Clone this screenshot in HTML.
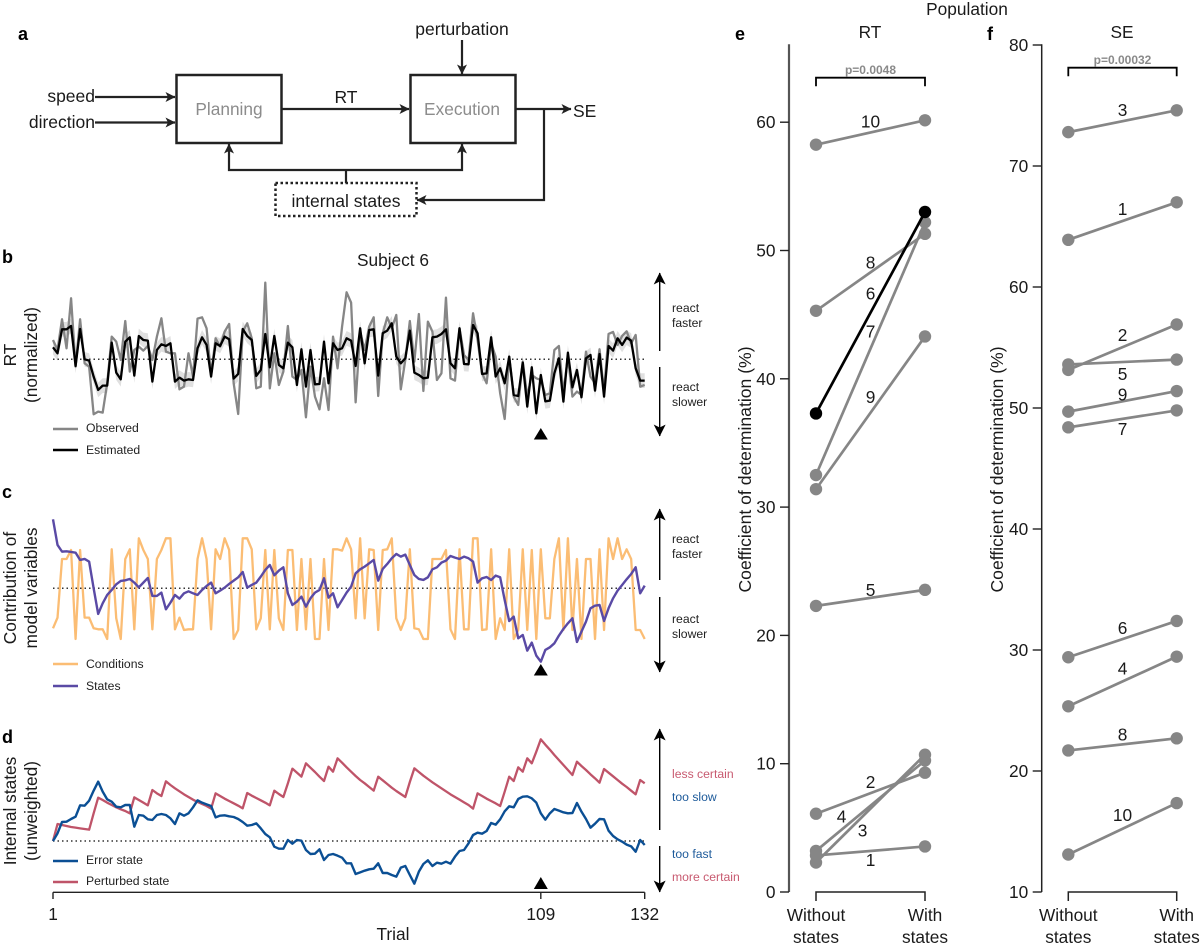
<!DOCTYPE html>
<html lang="en">
<head>
<meta charset="utf-8">
<title>Planning and execution model results</title>
<style>
html,body{margin:0;padding:0;background:#fff;}
svg{display:block;font-family:"Liberation Sans",Arial,sans-serif;}
.t{font-size:17.3px;fill:#1a1a1a;}
.s{font-size:12.2px;fill:#222;}
.letter{font-size:18px;font-weight:bold;fill:#000;}
.mid{text-anchor:middle;dominant-baseline:central;}
.vmid{dominant-baseline:central;}
</style>
</head>
<body>
<svg id="figure" xmlns="http://www.w3.org/2000/svg" width="1200" height="948" viewBox="0 0 1200 948">
<defs>
<marker id="ah" viewBox="0 0 10 10" refX="9.5" refY="5" markerWidth="10" markerHeight="10" markerUnits="userSpaceOnUse" orient="auto"><path d="M0 0L10 5L0 10L2.5 5Z" fill="#222"/></marker>
<marker id="bh" viewBox="0 0 12 12" refX="11.5" refY="6" markerWidth="12" markerHeight="12" markerUnits="userSpaceOnUse" orient="auto"><path d="M0 0L12 6L0 12L3 6Z" fill="#000"/></marker>
</defs>
<rect x="0" y="0" width="1200" height="948" fill="#fff"/>

<!-- Panel a -->
<g>
<text class="letter" x="18" y="40">a</text>
<rect x="176.5" y="75" width="105" height="68" fill="none" stroke="#222" stroke-width="2.5"/>
<rect x="410.5" y="75" width="105" height="68" fill="none" stroke="#222" stroke-width="2.5"/>
<rect x="275.5" y="183" width="141" height="33" fill="none" stroke="#222" stroke-width="2.5" stroke-dasharray="2.5 2.5"/>
<text class="t mid" x="229" y="109" style="fill:#8c8c8c">Planning</text>
<text class="t mid" x="462" y="109" style="fill:#8c8c8c">Execution</text>
<text class="t mid" x="346" y="201" style="font-size:17.5px">internal states</text>
<text class="t mid" x="462" y="29" style="font-size:17.5px">perturbation</text>
<text class="t vmid" x="95" y="96" text-anchor="end" style="font-size:17.5px">speed</text>
<text class="t vmid" x="95" y="122" text-anchor="end" style="font-size:17.5px">direction</text>
<text class="t mid" x="346" y="97" style="font-size:17.5px">RT</text>
<text class="t vmid" x="573" y="111" style="font-size:17.5px">SE</text>
<g fill="none" stroke="#222" stroke-width="2.2">
<line x1="95" y1="97" x2="175" y2="97" marker-end="url(#ah)"/>
<line x1="95" y1="122.5" x2="175" y2="122.5" marker-end="url(#ah)"/>
<line x1="282" y1="109" x2="409" y2="109" marker-end="url(#ah)"/>
<line x1="516" y1="109" x2="571" y2="109" marker-end="url(#ah)"/>
<line x1="462" y1="40" x2="462" y2="74" marker-end="url(#ah)"/>
<polyline points="544,109 544,200 417,200" marker-end="url(#ah)"/>
<polyline points="346,170 229,170 229,144" marker-end="url(#ah)"/>
<polyline points="346,170 462,170 462,144" marker-end="url(#ah)"/>
<line x1="346" y1="170" x2="346" y2="183"/>
</g>
</g>

<!-- Panel b -->
<g id="panel-b">
<text class="letter" x="2" y="263">b</text>
<text class="t mid" x="393" y="260">Subject 6</text>
<text class="t mid" transform="translate(10 355) rotate(-90)">RT</text>
<text class="t mid" transform="translate(31 355) rotate(-90)">(normalized)</text>
<polygon id="rt-band" fill="#e0e0e0"/>
<line id="rt-zero" stroke="#333" stroke-width="1.5" stroke-dasharray="1.5 3"/>
<polyline id="rt-observed" fill="none" stroke="#868686" stroke-width="2.3" stroke-linejoin="round"/>
<polyline id="rt-estimated" fill="none" stroke="#000" stroke-width="2.3" stroke-linejoin="round"/>
<line x1="53" x2="78" y1="429" y2="429" stroke="#868686" stroke-width="2.4"/>
<text class="s vmid" x="86" y="428">Observed</text>
<line x1="53" x2="78" y1="450" y2="450" stroke="#000" stroke-width="2.4"/>
<text class="s vmid" x="86" y="450">Estimated</text>
<polygon id="rt-marker" fill="#000"/>
<line x1="659.7" y1="351" x2="659.7" y2="273" stroke="#000" stroke-width="1.4" marker-end="url(#bh)"/>
<line x1="659.7" y1="367" x2="659.7" y2="436" stroke="#000" stroke-width="1.4" marker-end="url(#bh)"/>
<text class="s" x="672" y="312">react<tspan x="672" dy="15">faster</tspan></text>
<text class="s" x="672" y="391">react<tspan x="672" dy="15">slower</tspan></text>
</g>

<!-- Panel c -->
<g id="panel-c">
<text class="letter" x="2" y="498">c</text>
<text class="t mid" transform="translate(10 588) rotate(-90)">Contribution of</text>
<text class="t mid" transform="translate(31 588) rotate(-90)">model variables</text>
<line id="c-zero" stroke="#333" stroke-width="1.5" stroke-dasharray="1.5 3"/>
<polyline id="c-conditions" fill="none" stroke="#fbbd74" stroke-width="2.3" stroke-linejoin="round"/>
<polyline id="c-states" fill="none" stroke="#5a4aa5" stroke-width="2.4" stroke-linejoin="round"/>
<line x1="53" x2="78" y1="664" y2="664" stroke="#fbbd74" stroke-width="2.4"/>
<text class="s vmid" x="86" y="664">Conditions</text>
<line x1="53" x2="78" y1="686" y2="686" stroke="#5a4aa5" stroke-width="2.4"/>
<text class="s vmid" x="86" y="686">States</text>
<polygon id="c-marker" fill="#000"/>
<line x1="659.7" y1="580" x2="659.7" y2="509" stroke="#000" stroke-width="1.4" marker-end="url(#bh)"/>
<line x1="659.7" y1="597" x2="659.7" y2="672" stroke="#000" stroke-width="1.4" marker-end="url(#bh)"/>
<text class="s" x="672" y="543">react<tspan x="672" dy="15">faster</tspan></text>
<text class="s" x="672" y="623">react<tspan x="672" dy="15">slower</tspan></text>
</g>

<!-- Panel d -->
<g id="panel-d">
<text class="letter" x="2" y="743">d</text>
<text class="t mid" transform="translate(10 811) rotate(-90)">Internal states</text>
<text class="t mid" transform="translate(31 811) rotate(-90)">(unweighted)</text>
<line id="d-zero" stroke="#333" stroke-width="1.5" stroke-dasharray="1.5 3"/>
<polyline id="d-perturbed" fill="none" stroke="#bf5469" stroke-width="2.3" stroke-linejoin="round"/>
<polyline id="d-error" fill="none" stroke="#0b4f94" stroke-width="2.4" stroke-linejoin="round"/>
<line x1="53" x2="78" y1="861" y2="861" stroke="#0b4f94" stroke-width="2.4"/>
<text class="s vmid" x="86" y="860">Error state</text>
<line x1="53" x2="78" y1="882" y2="882" stroke="#bf5469" stroke-width="2.4"/>
<text class="s vmid" x="86" y="881">Perturbed state</text>
<polygon id="d-marker" fill="#000"/>
<line x1="659.7" y1="830" x2="659.7" y2="729" stroke="#000" stroke-width="1.4" marker-end="url(#bh)"/>
<line x1="659.7" y1="846" x2="659.7" y2="892" stroke="#000" stroke-width="1.4" marker-end="url(#bh)"/>
<text class="s vmid" x="672" y="774" style="fill:#c85a70">less certain</text>
<text class="s vmid" x="672" y="797" style="fill:#1d5a9a">too slow</text>
<text class="s vmid" x="672" y="854" style="fill:#1d5a9a">too fast</text>
<text class="s vmid" x="672" y="877" style="fill:#c85a70">more certain</text>
<g id="trial-axis"></g>
<text class="t mid" x="393" y="934">Trial</text>
</g>

<!-- Panels e and f -->
<text class="t mid" x="967" y="9">Population</text>
<g id="panel-e">
<text class="letter" x="735" y="40">e</text>
<text class="t mid" x="870" y="32">RT</text>
<text class="t mid" transform="translate(745 469.5) rotate(-90)" style="font-size:17.6px">Coefficient of determination (%)</text>
</g>
<g id="panel-f">
<text class="letter" x="987" y="40">f</text>
<text class="t mid" x="1122" y="32">SE</text>
<text class="t mid" transform="translate(997 469.5) rotate(-90)" style="font-size:17.6px">Coefficient of determination (%)</text>
</g>
</svg>

<script>
// Time-series values, in hundredths of a display unit, one per trial (1..132)
var rtObserved = [58,28,120,33,183,-22,120,-12,-22,-165,
-157,-160,-72,68,53,-2,115,-37,28,38,
26,40,-2,68,123,23,18,18,-90,-82,
18,-52,122,126,93,-47,63,38,83,106,
-72,-164,83,108,63,-87,-82,230,-87,18,
-77,-37,100,-52,-62,-32,-174,-22,-112,-150,
-57,-152,68,-27,98,201,170,-129,83,28,
98,126,-110,78,126,93,133,-90,-2,115,
-7,136,-95,113,83,-62,-42,185,-57,-64,
93,13,-2,138,58,-42,-72,48,8,-102,
-179,8,-112,-137,-7,-112,-47,-57,-62,-107,
-102,28,40,-102,8,-112,-97,-107,23,-52,
-72,30,-97,76,82,43,70,84,48,73,
-82,-77];
var rtEstimated = [36,18,90,90,100,-20,91,0,-4,-52,
-92,-79,-79,50,-40,-60,53,66,-49,70,
58,56,-67,28,45,40,48,-67,-55,-64,
-60,-62,33,66,43,-52,48,40,68,60,
-58,-44,91,70,58,-50,-32,76,-24,70,
-17,-27,50,36,-77,30,-82,28,-75,-74,
53,-72,48,28,33,63,56,-20,93,-12,
88,90,-49,78,86,108,8,-12,3,86,
-40,-47,-57,-55,66,68,76,90,-12,-27,
93,-14,-15,103,78,-44,-42,66,-52,-27,
-72,8,-107,-110,-10,-142,-24,-162,-47,-126,
-124,-42,3,-127,20,-84,-32,-114,3,13,
-94,16,-112,40,26,63,43,65,56,-27,
-64,-64];
var conditions = [-120,-88,88,88,115,-152,115,-88,-88,-120,
-123,-123,-152,117,-90,-152,88,117,-123,150,
115,88,-123,88,115,150,150,-123,-88,-125,
-123,-123,88,150,88,-123,117,88,150,115,
-152,-125,150,150,117,-123,-90,115,-123,115,
-90,-125,115,115,-125,88,-123,88,-152,-152,
88,-125,117,117,113,150,117,-90,150,-90,
117,115,-125,115,117,150,-90,-125,-90,117,
-120,-123,-152,-152,88,88,88,115,-123,-152,
117,-123,-123,150,150,-125,-123,117,-152,-90,
-125,117,-152,-125,117,-125,115,-152,117,-90,
-90,88,150,-125,150,-125,88,-152,88,88,
-152,117,-125,150,88,150,88,117,88,-125,
-125,-152];
var states = [207,130,110,111,109,107,85,88,80,0,
-77,-45,-20,-5,12,22,24,28,17,3,
17,31,-23,-23,-13,-63,-43,-20,-31,-15,
-9,-15,-20,-5,7,17,-15,-7,2,13,
23,33,49,2,10,17,35,55,70,39,
53,63,-15,-50,-40,-25,-55,-30,-13,-5,
30,-28,-15,-57,-35,-13,5,45,57,65,
75,85,23,58,73,90,103,95,101,70,
40,28,25,33,57,63,77,83,97,92,
88,95,90,80,17,30,34,25,38,33,
-35,-98,-85,-150,-140,-187,-163,-202,-220,-185,
-177,-165,-142,-122,-105,-90,-161,-130,-100,-60,
-52,-50,-98,-60,-30,-7,10,27,43,63,
-15,8];
var errorState = [0,23,57,58,66,73,107,106,121,151,
178,148,125,118,103,101,108,108,43,78,
76,65,63,78,81,78,68,51,83,76,
83,101,122,115,110,105,71,76,77,74,
72,66,57,46,48,53,38,21,11,-17,
-23,-23,3,-8,3,1,-27,-39,-38,-25,
-57,-42,-39,-44,-50,-67,-67,-99,-94,-89,
-85,-83,-67,-96,-96,-102,-107,-80,-75,-102,
-128,-92,-69,-58,-75,-65,-68,-62,-68,-47,
-30,-27,-7,18,25,22,30,54,49,65,
89,104,101,126,133,134,128,115,83,64,
83,96,91,86,83,84,114,88,66,40,
52,66,65,31,15,5,-2,-11,-16,-32,
3,-12];
var perturbedState = [0,51,48,45,42,40,38,36,34,83,
130,123,115,108,101,95,90,83,131,123,
115,107,153,143,135,179,168,158,149,140,
132,124,117,111,105,97,143,135,127,120,
113,106,98,144,136,129,122,115,107,151,
141,132,173,217,205,193,233,220,207,193,
180,223,208,248,235,221,208,195,183,173,
162,151,193,182,171,160,150,141,132,177,
218,207,196,186,176,167,158,149,140,132,
124,116,108,97,143,135,127,120,113,105,
148,193,180,221,208,248,233,268,305,289,
274,258,243,228,213,198,238,225,213,200,
188,175,216,205,194,183,172,162,151,140,
183,173];
var estimatedBandHalfWidth = 22;
var trialTicks = [1, 109, 132];
var markerTrial = 109;

// Population panels: percent coefficient of determination per subject
var rtSubjects = [10, 8, 6, 7, 9, 5, 2, 4, 3, 1];
var rtWithout = [58.25, 45.3, 37.3, 32.5, 31.4, 22.3, 6.1, 3.2, 2.3, 2.85];
var rtWith = [60.15, 51.3, 53, 52.2, 43.3, 23.55, 9.3, 10.25, 10.7, 3.55];
var rtTicks = [0, 10, 20, 30, 40, 50, 60];
var rtHighlightSubject = 6;

var seSubjects = [3, 1, 2, 5, 9, 7, 6, 4, 8, 10];
var seWithout = [72.8, 63.9, 53.15, 53.6, 49.7, 48.4, 29.4, 25.35, 21.7, 13.1];
var seWith = [74.6, 67, 56.9, 54, 51.4, 49.8, 32.4, 29.45, 22.7, 17.35];
var seTicks = [10, 20, 30, 40, 50, 60, 70, 80];
var conditionLabels = [["Without", "states"], ["With", "states"]];

var NS = "http://www.w3.org/2000/svg";
function make(tag, attrs, parent) {
  var n = document.createElementNS(NS, tag);
  for (var k in attrs) n.setAttribute(k, attrs[k]);
  parent.appendChild(n);
  return n;
}
function $(id) { return document.getElementById(id); }

// Shared trial axis
function xTrial(t) { return 53 + (t - 1) * (591.7 / 131); }
function yAxisFor(zero) { return function (v) { return zero - v / 3; }; }
var yRt = yAxisFor(359.3), yContribution = yAxisFor(588.3), yInternal = yAxisFor(841);

function pointsOf(series, yFn) {
  return series.map(function (v, i) {
    return xTrial(i + 1).toFixed(2) + "," + yFn(v).toFixed(2);
  }).join(" ");
}
function setZero(id, yFn) {
  var l = $(id);
  l.setAttribute("x1", xTrial(1));
  l.setAttribute("x2", xTrial(132));
  l.setAttribute("y1", yFn(0));
  l.setAttribute("y2", yFn(0));
}
function setMarker(id, top, bottom) {
  var x = xTrial(markerTrial);
  $(id).setAttribute("points", (x - 7) + "," + bottom + " " + x + "," + top + " " + (x + 7) + "," + bottom);
}

var upper = rtEstimated.map(function (v, i) { return xTrial(i + 1).toFixed(2) + "," + yRt(v + estimatedBandHalfWidth).toFixed(2); });
var lower = rtEstimated.map(function (v, i) { return xTrial(i + 1).toFixed(2) + "," + yRt(v - estimatedBandHalfWidth).toFixed(2); }).reverse();
$("rt-band").setAttribute("points", upper.concat(lower).join(" "));
$("rt-observed").setAttribute("points", pointsOf(rtObserved, yRt));
$("rt-estimated").setAttribute("points", pointsOf(rtEstimated, yRt));
$("c-conditions").setAttribute("points", pointsOf(conditions, yContribution));
$("c-states").setAttribute("points", pointsOf(states, yContribution));
$("d-error").setAttribute("points", pointsOf(errorState, yInternal));
$("d-perturbed").setAttribute("points", pointsOf(perturbedState, yInternal));
setZero("rt-zero", yRt);
setZero("c-zero", yContribution);
setZero("d-zero", yInternal);
setMarker("rt-marker", 428, 439.5);
setMarker("c-marker", 664, 675.5);
setMarker("d-marker", 877, 889);

var trialAxis = $("trial-axis");
var axisLine = make("line", {x1: xTrial(1), x2: xTrial(132), y1: 892.3, y2: 892.3, stroke: "#222", "stroke-width": 1.4}, trialAxis);


trialTicks.forEach(function (t) {
  var tick = make("line", {x1: xTrial(t), x2: xTrial(t), y1: 892.3, y2: 899, stroke: "#222", "stroke-width": 1.4}, trialAxis);
  
  
  var lab = make("text", {x: xTrial(t), y: 914, "class": "t mid"}, trialAxis);
  
  
  lab.textContent = t;
});

// Label nudges relative to each line's midpoint (layout only), keyed by subject
var rtNudge = {10:[0,-11], 8:[0,-10], 6:[0,-19], 7:[0,-17], 9:[0,-16], 5:[0,-8], 2:[0,-11], 4:[-29,11], 3:[-8,22], 1:[0,9]};
var seNudge = {3:[0,-11], 1:[0,-12], 2:[0,-12], 5:[0,12], 9:[0,-7], 7:[0,10], 6:[0,-11], 4:[0,-13], 8:[0,-10], 10:[0,-14]};

function drawPopulation(cfg) {
  var g = $(cfg.panel);
  var y = function (v) { return cfg.y0 - (v - cfg.v0) * cfg.k; };
  var axis = make("line", {x1: cfg.ax, x2: cfg.ax, y1: 44.3, y2: y(cfg.v0), stroke: cfg.axisColor, "stroke-width": cfg.axisWidth}, g);
  
  
  cfg.ticks.forEach(function (t) {
    var tick = make("line", {x1: cfg.ax - 9, x2: cfg.ax, y1: y(t), y2: y(t), stroke: "#222", "stroke-width": 1.4}, g);
    
    
    var lab = make("text", {x: cfg.ax - 13.5, y: y(t), "class": "t vmid", "text-anchor": "end"}, g);
    
    
    lab.textContent = t;
  });
  var baseline = make("path", {d: "M" + cfg.xL + " 901V892H" + cfg.xR + "V901", fill: "none", stroke: "#222", "stroke-width": 1.5}, g);
  
  
  [cfg.xL, cfg.xR].forEach(function (x, i) {
    var lab = make("text", {x: x, y: 915, "class": "t mid"}, g);
    
    
    lab.textContent = conditionLabels[i][0];
    var lab2 = make("text", {x: x, y: 937, "class": "t mid"}, g);
    
    
    lab2.textContent = conditionLabels[i][1];
  });
  var bracket = make("path", {d: "M" + cfg.xL + " " + (cfg.by + 8.5) + "V" + cfg.by + "H" + cfg.xR + "V" + (cfg.by + 8.5), fill: "none", stroke: "#000", "stroke-width": 1.8}, g);
  
  
  var p = make("text", {x: (cfg.xL + cfg.xR) / 2, y: cfg.by - 7.5, "class": "mid", "font-size": 12, "font-weight": "bold", fill: "#8a8a8a"}, g);
  
  
  p.textContent = cfg.p;

  var order = cfg.subjects.map(function (s, i) { return i; }).sort(function (a, b) {
    return (cfg.subjects[a] === cfg.highlight) - (cfg.subjects[b] === cfg.highlight);
  });
  order.forEach(function (i) {
    var s = cfg.subjects[i], hi = s === cfg.highlight;
    var color = hi ? "#000" : "#868686";
    var a = y(cfg.without[i]), b = y(cfg.withS[i]);
    var pair = make("line", {x1: cfg.xL, x2: cfg.xR, y1: a, y2: b, stroke: color, "stroke-width": 2.7}, g);
    
    
    var d1 = make("circle", {cx: cfg.xL, cy: a, r: 6.2, fill: color}, g);
    
    
    var d2 = make("circle", {cx: cfg.xR, cy: b, r: 6.2, fill: color}, g);
    
    
  });
  cfg.subjects.forEach(function (s, i) {
    var n = cfg.nudge[s];
    var lab = make("text", {x: (cfg.xL + cfg.xR) / 2 + n[0], y: (y(cfg.without[i]) + y(cfg.withS[i])) / 2 + n[1], "class": "t mid"}, g);
    
    
    lab.textContent = s;
  });
}

drawPopulation({panel: "panel-e", y0: 892, v0: 0, k: 12.83, ax: 789, axisColor: "#555", axisWidth: 2.2,
  xL: 816, xR: 925, by: 77.7, p: "p=0.0048", ticks: rtTicks, subjects: rtSubjects,
  without: rtWithout, withS: rtWith, nudge: rtNudge, highlight: rtHighlightSubject});
drawPopulation({panel: "panel-f", y0: 892, v0: 10, k: 12.1, ax: 1041.7, axisColor: "#222", axisWidth: 1.5,
  xL: 1068.3, xR: 1176.7, by: 67.7, p: "p=0.00032", ticks: seTicks, subjects: seSubjects,
  without: seWithout, withS: seWith, nudge: seNudge, highlight: null});
</script>
</body>
</html>
